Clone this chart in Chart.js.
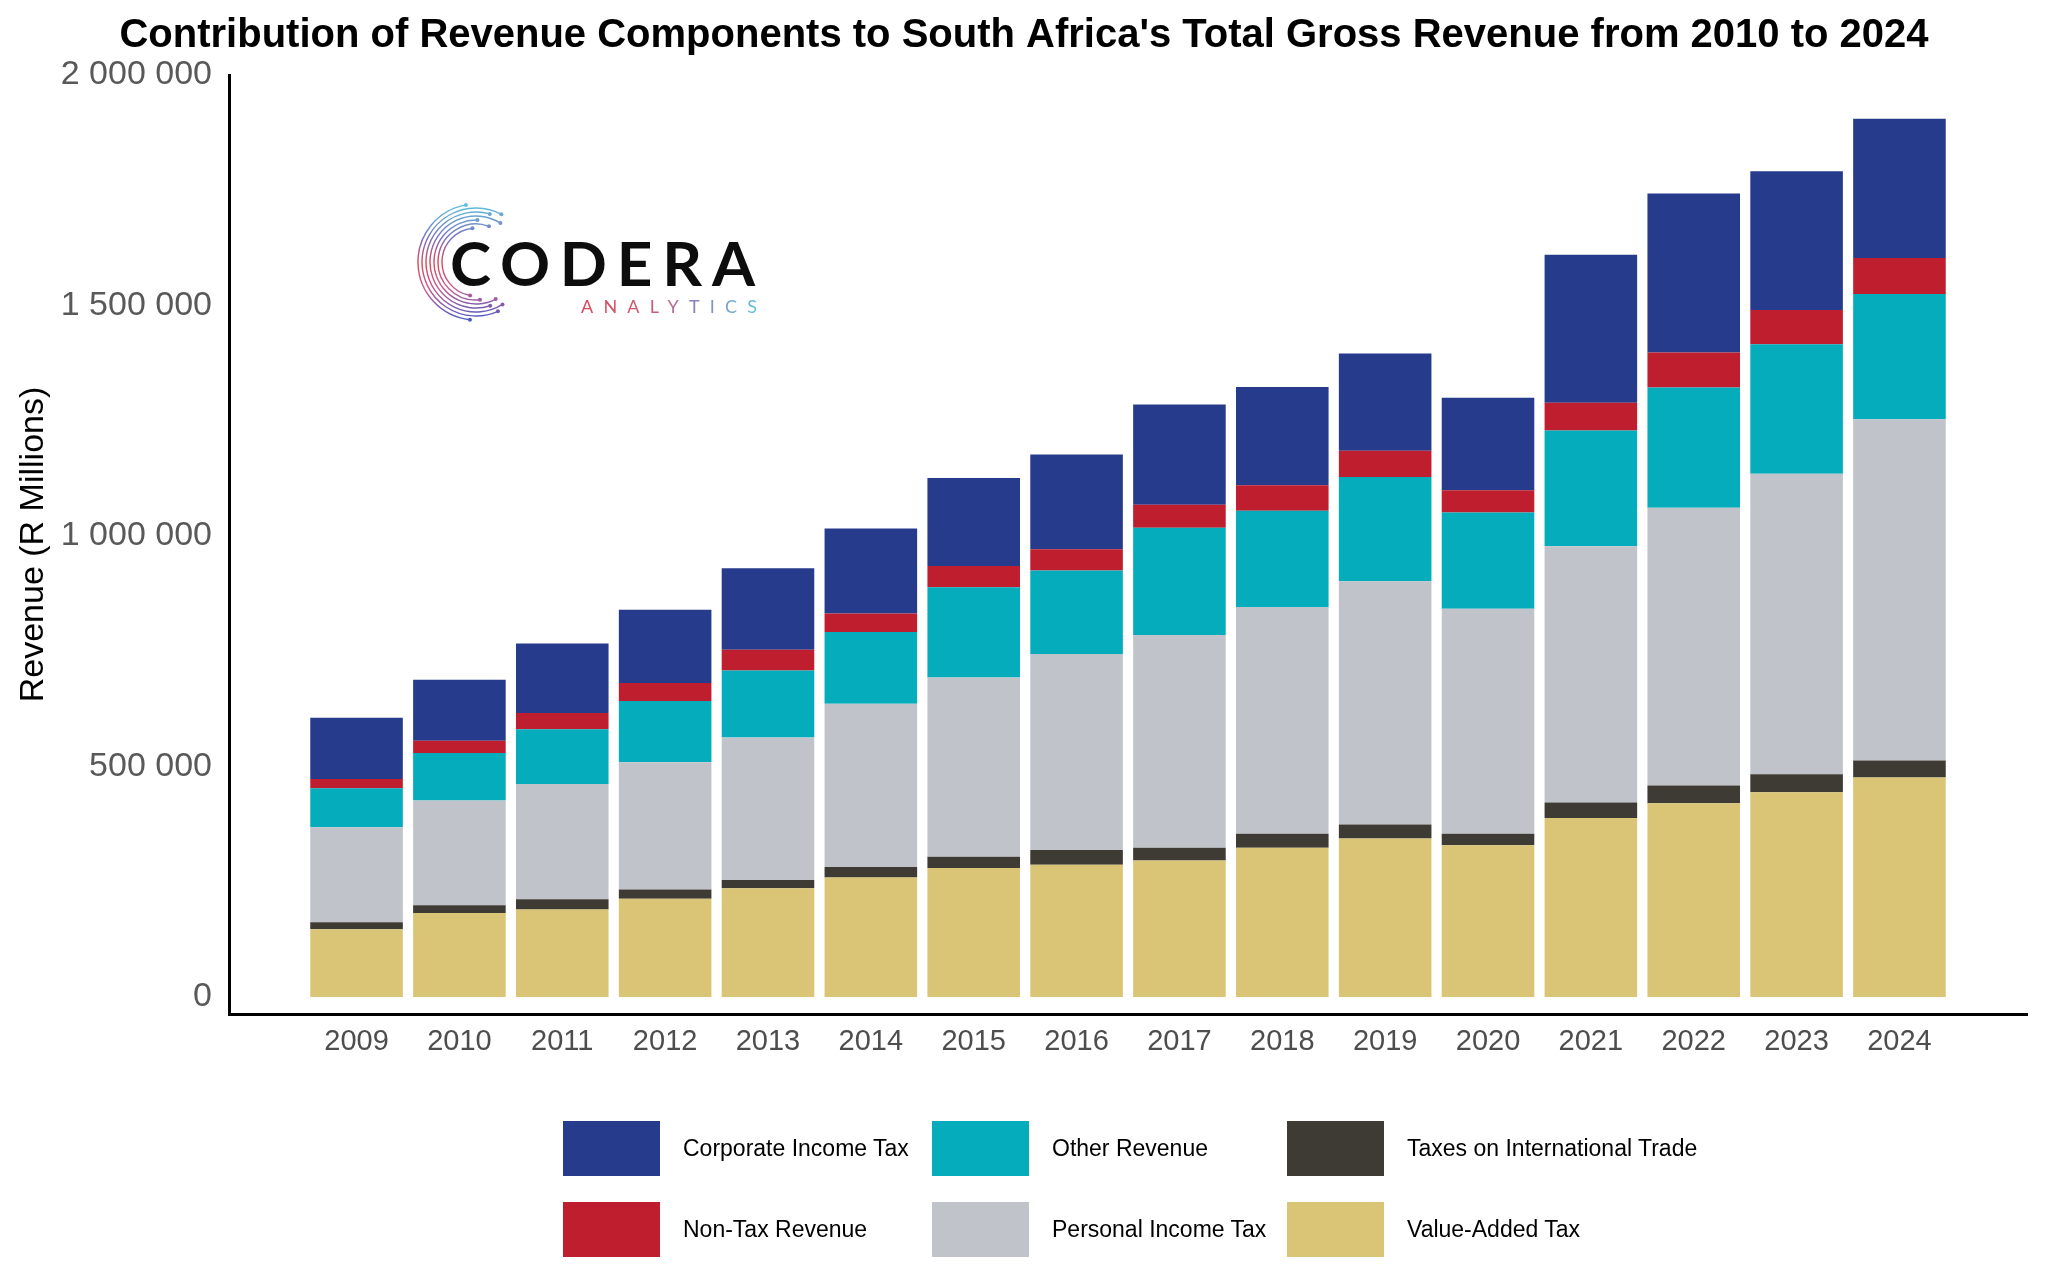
<!DOCTYPE html>
<html>
<head>
<meta charset="utf-8">
<script src="https://cdn.jsdelivr.net/npm/chart.js@4.4.1/dist/chart.umd.min.js"></script>
<style>
  html, body { margin: 0; padding: 0; background: #fff; }
  #wrap { position: relative; width: 2048px; height: 1280px; }
  #logo { position: absolute; left: 400px; top: 180px; }
  #legend { position: absolute; left: 0; top: 0; width: 2048px; height: 1280px; pointer-events: none; }
  .item { position: absolute; display: flex; align-items: center; height: 55px; white-space: nowrap;
          font-family: "Liberation Sans", Arial, sans-serif; font-size: 23px; color: #000; }
  .box { width: 97px; height: 55px; margin-right: 23px; }
</style>
</head>
<body>
<div id="wrap">
  <canvas id="chart" width="2048" height="1280"></canvas>
  <svg id="logo" width="400" height="160" viewBox="0 0 400 160"></svg>
  <div id="legend"></div>
</div>
<script>
const SANS = '"Liberation Sans", Arial, sans-serif'

const years = [2009, 2010, 2011, 2012, 2013, 2014, 2015, 2016, 2017, 2018, 2019, 2020, 2021, 2022, 2023, 2024]

// R millions
const valueAddedTax = [147000, 182000, 190000, 213000, 236000, 259000, 280000, 287000, 296000, 324000, 344000, 329000, 388000, 420000, 444000, 476000]
const internationalTrade = [15000, 17000, 22000, 20000, 18000, 23000, 24000, 32000, 28000, 30000, 30000, 25000, 34000, 39000, 39000, 37000]
const personalIncomeTax = [206000, 227000, 250000, 276000, 309000, 354000, 389000, 425000, 461000, 492000, 528000, 488000, 556000, 602000, 652000, 740000]
const otherRevenue = [85000, 103000, 119000, 133000, 145000, 156000, 196000, 181000, 233000, 209000, 226000, 209000, 251000, 261000, 281000, 272000]
const nonTaxRevenue = [20000, 27000, 35000, 39000, 45000, 40000, 46000, 46000, 50000, 55000, 57000, 48000, 60000, 76000, 74000, 78000]
const corporateIncomeTax = [133000, 132000, 151000, 159000, 177000, 184000, 191000, 206000, 217000, 213000, 211000, 201000, 321000, 345000, 301000, 302000]

const yTicks = [0, 500000, 1000000, 1500000, 2000000]

// legend is laid out column-wise like the original
const legendRows = [
  ['Corporate Income Tax', 'Other Revenue', 'Taxes on International Trade'],
  ['Non-Tax Revenue', 'Personal Income Tax', 'Value-Added Tax']
]

const series = [
  { label: 'Value-Added Tax', values: valueAddedTax, color: '#d9c575' },
  { label: 'Taxes on International Trade', values: internationalTrade, color: '#3e3a34' },
  { label: 'Personal Income Tax', values: personalIncomeTax, color: '#c0c4ca' },
  { label: 'Other Revenue', values: otherRevenue, color: '#04acbc' },
  { label: 'Non-Tax Revenue', values: nonTaxRevenue, color: '#be1e2e' },
  { label: 'Corporate Income Tax', values: corporateIncomeTax, color: '#263b8c' }
]

const spaced = v => String(v).replace(/\B(?=(\d{3})+(?!\d))/g, ' ')

// keep the title centred on the page and no wider than in the original
const titleFit = {
  id: 'titleFit',
  afterLayout(c) {
    if (c.titleBlock) {
      c.titleBlock.left = 114
      c.titleBlock.right = 1934
    }
  }
}

const chart = new Chart(document.getElementById('chart'), {
  type: 'bar',
  data: {
    datasets: series.map(s => ({
      label: s.label,
      data: years.map((yr, i) => ({ x: yr, y: s.values[i] })),
      backgroundColor: s.color,
      borderWidth: 0,
      categoryPercentage: 1,
      barPercentage: 0.9
    }))
  },
  plugins: [titleFit],
  options: {
    responsive: false,
    animation: false,
    layout: { padding: { left: 0, right: 21, top: 0, bottom: 221 } },
    plugins: {
      legend: { display: false },
      tooltip: { enabled: false },
      title: {
        display: true,
        text: "Contribution of Revenue Components to South Africa's Total Gross Revenue from 2010 to 2024",
        color: '#000',
        font: { family: SANS, size: 40, weight: 'bold' },
        padding: { top: 12, bottom: 15 }
      }
    },
    scales: {
      x: {
        type: 'linear',
        offset: false,
        stacked: true,
        min: 2007.76,
        max: 2025.24,
        grid: { display: false, drawTicks: false },
        border: { display: true, color: '#000', width: 3 },
        afterBuildTicks: s => { s.ticks = years.map(v => ({ value: v })) },
        afterFit: s => { s.height = 45 },
        ticks: {
          autoSkip: false,
          maxRotation: 0,
          padding: 11,
          color: '#4d4d4d',
          font: { family: SANS, size: 29 },
          callback: v => String(v)
        }
      },
      y: {
        stacked: true,
        min: -36900,
        max: 2000000,
        grid: { display: false, drawTicks: false },
        border: { display: true, color: '#000', width: 3 },
        afterBuildTicks: s => { s.ticks = yTicks.map(v => ({ value: v })) },
        afterFit: s => { s.width = 229 },
        ticks: {
          padding: 17,
          color: '#595959',
          font: { family: SANS, size: 34 },
          callback: v => spaced(v)
        },
        title: {
          display: true,
          text: 'Revenue (R Millions)',
          color: '#000',
          font: { family: SANS, size: 34 },
          padding: { top: 13, bottom: 0 }
        }
      }
    }
  }
})

// html legend in a 3 x 2 grid
const legendEl = document.getElementById('legend')
const colX = [563, 932, 1287]
const rowY = [1121, 1202]
legendRows.forEach((row, r) => {
  row.forEach((name, c) => {
    const ds = chart.data.datasets.find(d => d.label === name)
    const item = document.createElement('div')
    item.className = 'item'
    item.style.left = colX[c] + 'px'
    item.style.top = rowY[r] + 'px'
    const box = document.createElement('div')
    box.className = 'box'
    box.style.background = ds.backgroundColor
    const txt = document.createElement('span')
    txt.textContent = name
    item.appendChild(box)
    item.appendChild(txt)
    legendEl.appendChild(item)
  })
})

// Codera Analytics logo
const svgNS = 'http://www.w3.org/2000/svg'
const logo = document.getElementById('logo')
logo.innerHTML = `
  <defs>
    <linearGradient id="arcGrad" gradientUnits="userSpaceOnUse" x1="0" y1="24" x2="0" y2="140">
      <stop offset="0" stop-color="#5cc3dc"/>
      <stop offset="0.3" stop-color="#7a6fc0"/>
      <stop offset="0.5" stop-color="#d9475a"/>
      <stop offset="0.72" stop-color="#c95a8c"/>
      <stop offset="1" stop-color="#4b5cc8"/>
    </linearGradient>
    <linearGradient id="txtGrad" gradientUnits="userSpaceOnUse" x1="181" y1="0" x2="357" y2="0">
      <stop offset="0" stop-color="#d9485a"/>
      <stop offset="0.45" stop-color="#c9607a"/>
      <stop offset="0.65" stop-color="#8a7fc0"/>
      <stop offset="1" stop-color="#62c1da"/>
    </linearGradient>
  </defs>
  <text x="50" y="106" font-family="Lato, 'Open Sans', sans-serif" font-weight="700" font-size="62" fill="#0d0d0d" textLength="305" lengthAdjust="spacing">CODERA</text>
  <text x="181" y="133" font-family="Lato, 'Open Sans', sans-serif" font-weight="400" font-size="18" fill="url(#txtGrad)" textLength="176" lengthAdjust="spacing">ANALYTICS</text>
`
const cx = 76, cy = 82
const arcs = [[58, 100, 96], [54, 62, 66], [50, 74, 58], [46, 58, 72], [42, 88, 62], [38, 70, 84], [34, 96, 100]]
const rad = d => d * Math.PI / 180
arcs.forEach(([r, t, b]) => {
  const x1 = cx + r * Math.cos(rad(t)), y1 = cy - r * Math.sin(rad(t))
  const x2 = cx + r * Math.cos(rad(b)), y2 = cy + r * Math.sin(rad(b))
  const large = (t + b) < 180 ? 1 : 0
  const p = document.createElementNS(svgNS, 'path')
  p.setAttribute('d', `M${x1},${y1} A${r},${r} 0 ${large} 0 ${x2},${y2}`)
  p.setAttribute('fill', 'none')
  p.setAttribute('stroke', 'url(#arcGrad)')
  p.setAttribute('stroke-width', '1.4')
  logo.appendChild(p)
  ;[[x1, y1], [x2, y2]].forEach(([x, y]) => {
    const dot = document.createElementNS(svgNS, 'circle')
    dot.setAttribute('cx', x)
    dot.setAttribute('cy', y)
    dot.setAttribute('r', '2')
    dot.setAttribute('fill', 'url(#arcGrad)')
    logo.appendChild(dot)
  })
})
</script>
</body>
</html>
